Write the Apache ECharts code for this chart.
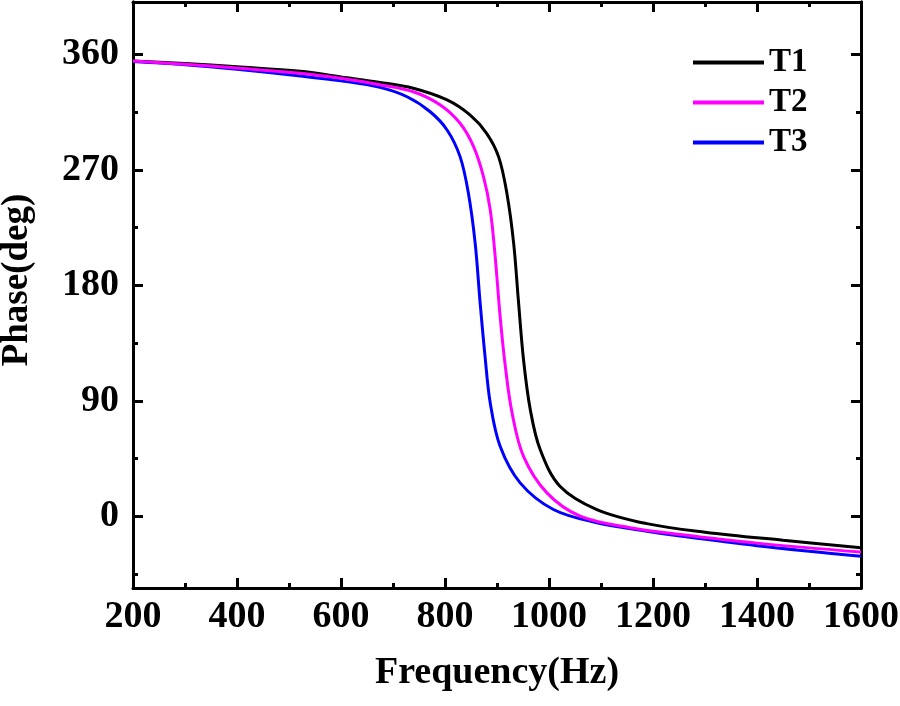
<!DOCTYPE html>
<html>
<head>
<meta charset="utf-8">
<script src="https://cdn.jsdelivr.net/npm/echarts@6/dist/echarts.min.js"></script>
<style>html,body{margin:0;padding:0;background:#fff}#c{width:900px;height:706px}</style>
</head>
<body>
<div id="c"></div>
<script>
const seriesNames = ['T1', 'T2', 'T3'];
const t1Freq  = [200, 300, 400, 522, 600, 675, 739, 804, 848, 880, 903, 919, 932, 941, 951, 964, 983, 1021, 1092, 1188, 1300, 1450, 1600];
const t1Phase = [355, 353, 350.5, 347, 342.5, 338.3, 333.7, 324.6, 312.9, 298.6, 280.4, 251.9, 213, 168.8, 122, 83.1, 52, 23.4, 5.2, -5.8, -12.5, -18.8, -24.6];
const t2Freq  = [200, 300, 400, 522, 600, 675, 739, 791, 829, 855, 874, 887, 896.5, 906, 916, 929, 951, 996, 1060, 1156, 1252, 1400, 1600];
const t2Phase = [355, 352.5, 349.5, 345.4, 341.5, 336.5, 331, 320.7, 306.4, 288.2, 264.8, 238.9, 202.5, 155.8, 116.8, 80.5, 46.7, 18.2, 0, -9, -14.3, -21, -28];
const t3Freq  = [200, 300, 400, 522, 600, 675, 727, 771.5, 804, 829, 845, 858, 867.6, 877, 887, 906, 944.5, 1008.5, 1092, 1188, 1252, 1400, 1600];
const t3Phase = [354.5, 352, 348.5, 343.3, 339.5, 334.4, 327.1, 315.4, 301.2, 280.4, 251.9, 213, 166.2, 124.6, 88.3, 54.5, 26, 5.2, -5.1, -11.7, -15.5, -23, -31.2];
const yMajorTicks = [0, 90, 180, 270, 360];
const yMinorTicks = [-45, 45, 135, 225, 315];
const colors = ['#000000', '#ff00ff', '#0000ff'];

const FONT = '"Liberation Serif", "Times New Roman", serif';
const pair = (xs, ys) => xs.map((x, i) => [x, ys[i]]);
const YMIN = -56, YMAX = 401;
const plain = v => String(v);

function yAxisDef(pos, ticks, len, labels, name) {
  return {
    type: 'value', position: pos, min: YMIN, max: YMAX,
    name: name || '', nameLocation: 'middle', nameGap: 97,
    nameTextStyle: {fontFamily: FONT, fontWeight: 'bold', fontSize: 37, color: '#000', padding: [0, 0, 0, 30]},
    axisLine: {show: true, lineStyle: {color: '#000', width: 3}},
    axisTick: {show: true, inside: true, length: len, customValues: ticks, lineStyle: {color: '#000', width: 3}},
    axisLabel: {show: labels, customValues: ticks, margin: 14, formatter: plain, fontFamily: FONT, fontWeight: 'bold', fontSize: 38, color: '#000'},
    splitLine: {show: false}
  };
}
function xAxisDef(pos, labels, name) {
  return {
    type: 'value', position: pos, min: 200, max: 1600, interval: 200,
    name: name || '', nameLocation: 'middle', nameGap: 66,
    nameTextStyle: {fontFamily: FONT, fontWeight: 'bold', fontSize: 38, color: '#000'},
    axisLine: {show: true, onZero: false, lineStyle: {color: '#000', width: 3}},
    axisTick: {show: true, inside: true, length: 10, lineStyle: {color: '#000', width: 3}},
    minorTick: {show: true, splitNumber: 2, length: 5, lineStyle: {color: '#000', width: 3}},
    axisLabel: {show: labels, margin: 10, formatter: plain, fontFamily: FONT, fontWeight: 'bold', fontSize: 38, color: '#000'},
    splitLine: {show: false}, minorSplitLine: {show: false}
  };
}

const chart = echarts.init(document.getElementById('c'));
const seriesData = [pair(t1Freq, t1Phase), pair(t2Freq, t2Phase), pair(t3Freq, t3Phase)];
const zs = [2, 4, 3];
chart.setOption({
  animation: false,
  backgroundColor: '#fff',
  grid: {left: 133, right: 39, top: 2, bottom: 118, containLabel: false, outerBoundsMode: 'none'},
  legend: {
    orient: 'vertical', left: 693, top: 46, padding: 0, icon: 'rect', itemWidth: 71, itemHeight: 4, itemGap: 7,
    textStyle: {fontFamily: FONT, fontWeight: 'bold', fontSize: 33, color: '#000', lineHeight: 31},
    data: seriesNames
  },
  xAxis: [xAxisDef('bottom', true, 'Frequency(Hz)'), xAxisDef('top', false)],
  yAxis: [
    yAxisDef('left', yMajorTicks, 10, true, 'Phase(deg)'),
    yAxisDef('left', yMinorTicks, 5, false),
    yAxisDef('right', yMajorTicks, 10, false),
    yAxisDef('right', yMinorTicks, 5, false)
  ],
  series: seriesNames.map((n, i) => ({
    name: n, type: 'line', xAxisIndex: 0, yAxisIndex: 0, data: seriesData[i],
    showSymbol: false, smooth: 0.35, z: zs[i],
    lineStyle: {color: colors[i], width: 3}, itemStyle: {color: colors[i]}
  }))
});
</script>
</body>
</html>
